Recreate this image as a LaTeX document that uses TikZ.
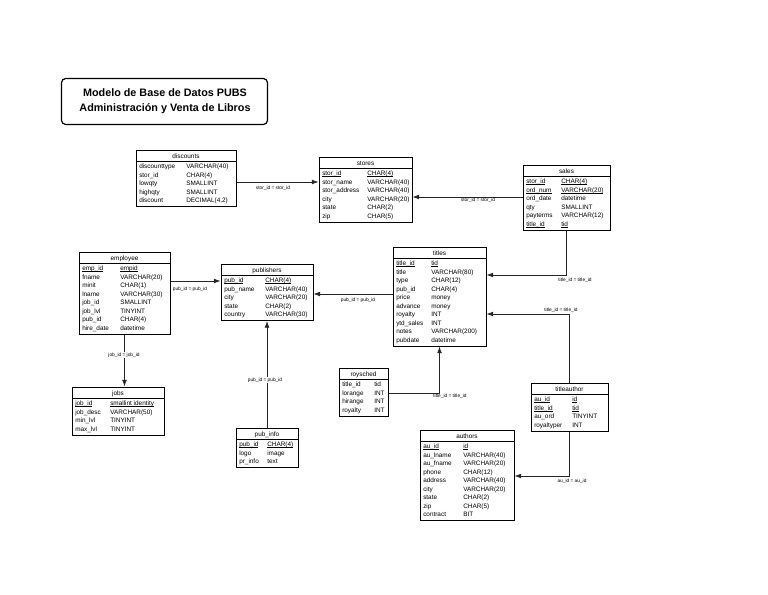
\documentclass[tikz,border=0pt]{standalone}
\usepackage{fontspec}
\setmainfont{Liberation Sans}
\usetikzlibrary{fit,arrows.meta}
\newcommand\ulk[1]{\setbox0\hbox{#1}\rlap{\rule[-0.8pt]{\wd0}{0.3pt}}\box0}
\tikzset{
  tbl/.style={draw, line width=0.75pt, inner sep=0pt},
  cell/.style={anchor=base west, inner sep=0pt, font=\fontsize{4.8}{5}\selectfont},
  head/.style={anchor=base, inner sep=0pt, font=\fontsize{4.8}{5}\selectfont},
  hline/.style={line width=0.5pt},
  rel/.style={line width=0.55pt, draw=black!85, -{Latex[length=5pt,width=3.6pt]}},
  lbl/.style={inner sep=0.5pt, font=\fontsize{3.6}{4}\selectfont},
  titlebox/.style={draw, line width=0.9pt, rounded corners=3pt},
}
% #1 name, #2 x1, #3 x2, #4 top, #5 nrows, #6 col2 x, #7 title, #8 rows
\newcommand\dbtab[8]{%
  \node[tbl, fit={(#2,#4) (#3,{#4+14+8.5*#5})}] (#1) {};
  \node[head] (#1-h) at ({(#2+#3)/2},{#4+8.3}) {#7};
  \draw[hline] (#2,{#4+11}) -- (#3,{#4+11});
  \foreach \a/\b [count=\i] in {#8} {
    \node[cell] (#1-a\i) at ({#2+3},{#4+10.3+8.5*\i}) {\a};
    \node[cell] (#1-b\i) at (#6,{#4+10.3+8.5*\i}) {\b};
  }%
}
\begin{document}
\begin{tikzpicture}[x=0.75pt,y=-0.75pt]
\useasboundingbox (0,0) rectangle (768,594);

% title
\node[titlebox, fit={(66,83) (263,120)}] (tbox) {};
\node[align=center, font=\bfseries\fontsize{8.1}{11.2}\selectfont, inner sep=0pt] (ttext) at (165,101)
  {Modelo de Base de Datos PUBS\\Administración y Venta de Libros};

\dbtab{discounts}{136}{236}{150}{5}{186}{discounts}{
  discounttype/VARCHAR(40), stor\_id/CHAR(4), lowqty/SMALLINT, highqty/SMALLINT, discount/DECIMAL(4{,}2)}

\dbtab{stores}{319}{412}{157}{6}{367}{stores}{
  \ulk{stor\_id}/\ulk{CHAR(4)}, stor\_name/VARCHAR(40), stor\_address/VARCHAR(40),
  city/VARCHAR(20), state/CHAR(2), zip/CHAR(5)}

\dbtab{sales}{523}{610}{165}{6}{561}{sales}{
  \ulk{stor\_id}/\ulk{CHAR(4)}, \ulk{ord\_num}/\ulk{VARCHAR(20)}, ord\_date/datetime,
  qty/SMALLINT, payterms/VARCHAR(12), \ulk{title\_id}/\ulk{tid}}

\dbtab{employee}{79}{170}{252}{8}{120}{employee}{
  \ulk{emp\_id}/\ulk{empid}, fname/VARCHAR(20), minit/CHAR(1), lname/VARCHAR(30),
  job\_id/SMALLINT, job\_lvl/TINYINT, pub\_id/CHAR(4), hire\_date/datetime}

\dbtab{publishers}{221}{313}{264}{5}{265}{publishers}{
  \ulk{pub\_id}/\ulk{CHAR(4)}, pub\_name/VARCHAR(40), city/VARCHAR(20), state/CHAR(2), country/VARCHAR(30)}

\dbtab{titles}{393}{486}{247}{10}{431}{titles}{
  \ulk{title\_id}/\ulk{tid}, title/VARCHAR(80), type/CHAR(12), pub\_id/CHAR(4), price/money,
  advance/money, royalty/INT, ytd\_sales/INT, notes/VARCHAR(200), pubdate/datetime}

\dbtab{roysched}{339}{388}{368}{4}{374}{roysched}{
  title\_id/tid, lorange/INT, hirange/INT, royalty/INT}

\dbtab{titleauthor}{531}{608}{383}{4}{572}{titleauthor}{
  \ulk{au\_id}/\ulk{id}, \ulk{title\_id}/\ulk{tid}, au\_ord/TINYINT, royaltyper/INT}

\dbtab{jobs}{72}{164}{387}{4}{110}{jobs}{
  \ulk{job\_id}/\ulk{smallint identity}, job\_desc/VARCHAR(50), min\_lvl/TINYINT, max\_lvl/TINYINT}

\dbtab{pubinfo}{236}{298}{428}{3}{267}{pub\_info}{
  \ulk{pub\_id}/\ulk{CHAR(4)}, logo/image, pr\_info/text}

\dbtab{authors}{420}{514}{430}{9}{463}{authors}{
  \ulk{au\_id}/\ulk{id}, au\_lname/VARCHAR(40), au\_fname/VARCHAR(20), phone/CHAR(12),
  address/VARCHAR(40), city/VARCHAR(20), state/CHAR(2), zip/CHAR(5), contract/BIT}

% connectors
\draw[rel] (discounts.east |- 0,182) -- (stores.west |- 0,182);
\node[lbl] (l1) at (273,188) {stor\_id = stor\_id};

\draw[rel] (sales.west |- 0,197) -- (stores.east |- 0,197);
\node[lbl] (l2) at (478,200) {stor\_id = stor\_id};

\draw[rel] (sales.south) |- (titles.east |- 0,275);
\node[lbl] (l3) at (575,280) {title\_id = title\_id};

\draw[rel] (titleauthor.north) |- (titles.east |- 0,314);
\node[lbl] (l4) at (561,310) {title\_id = title\_id};

\draw[rel] (titleauthor.south) |- (authors.east |- 0,476);
\node[lbl] (l5) at (572,481) {au\_id = au\_id};

\draw[rel] (roysched.east |- 0,393) -| (titles.south);
\node[lbl] (l6) at (450,396) {title\_id = title\_id};

\draw[rel] (employee.east |- 0,281) -- (publishers.west |- 0,281);
\node[lbl] (l7) at (190,289) {pub\_id = pub\_id};

\draw[rel] (titles.west |- 0,294) -- (publishers.east |- 0,294);
\node[lbl] (l8) at (358,300) {pub\_id = pub\_id};

\draw[rel] (pubinfo.north) -- (publishers.south);
\node[lbl, fill=white] (l9) at (265,380) {pub\_id = pub\_id};

\draw[rel] (employee.south) -- (jobs.north -| employee.south);
\node[lbl, fill=white] (l10) at (124,355) {job\_id = job\_id};
\end{tikzpicture}
\end{document}
